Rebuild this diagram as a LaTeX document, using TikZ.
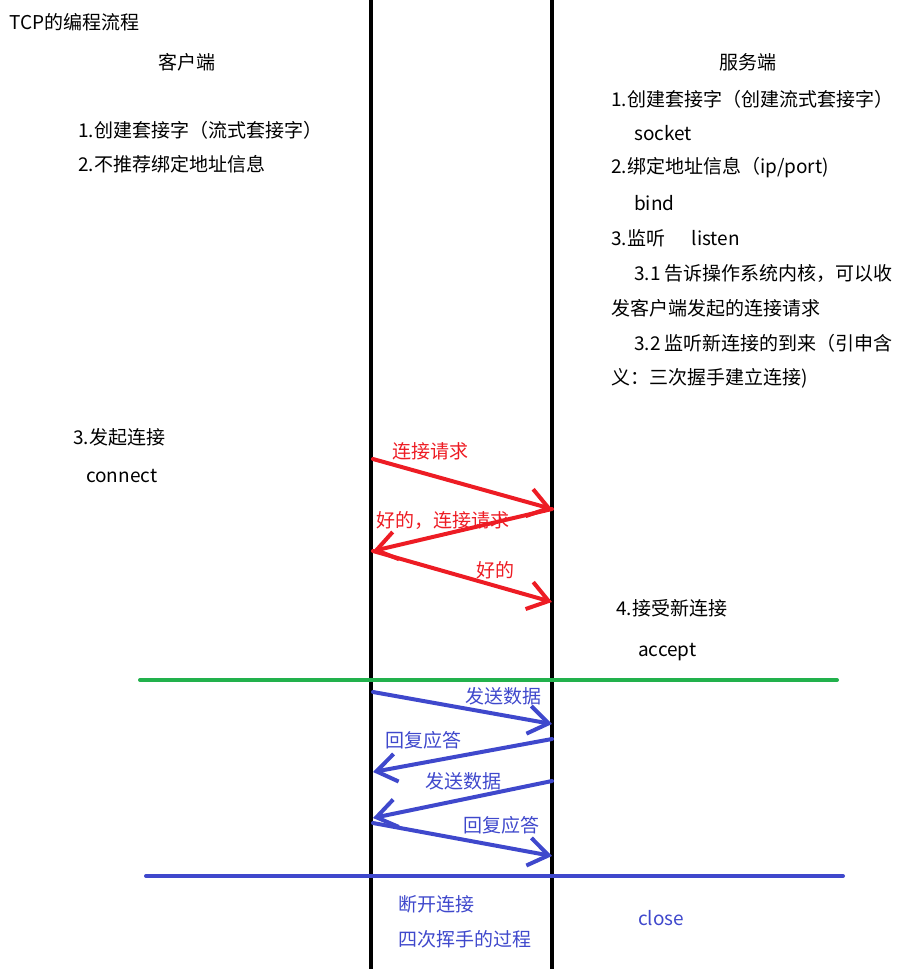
\documentclass[tikz,border=0pt]{standalone}
\usepackage{fontspec}
\setmainfont{Noto Sans CJK SC}
\usetikzlibrary{arrows.meta}

\definecolor{msred}{RGB}{237,28,36}
\definecolor{msgreen}{RGB}{34,177,76}
\definecolor{msblue}{RGB}{63,72,204}

\begin{document}
\begin{tikzpicture}[x=1pt,y=-1pt,
		txt/.style={anchor=west,inner sep=0pt,font=\fontsize{19}{23}\selectfont},
		head/.style={inner sep=0pt,font=\fontsize{19}{23}\selectfont},
		lifeline/.style={line width=4pt},
		msg/.style={line width=4pt,line cap=round,line join=round,
			-{Straight Barb[length=20pt,width=28pt,line width=4pt]}},
		sep/.style={line width=4pt,line cap=round}]
		\useasboundingbox (0,0) rectangle (915,969);

		%%% lifelines
		\coordinate (ctop) at (371,0);
		\coordinate (cbot) at (371,969);
		\coordinate (stop) at (552,0);
		\coordinate (sbot) at (552,969);
		\draw[lifeline] (ctop) -- (cbot);
		\draw[lifeline] (stop) -- (sbot);

		%%% titles
		\node[txt] (title) at (9,22) {TCP的编程流程};
		\node[head] (client) at (187,62) {客户端};
		\node[head] (server) at (748,62) {服务端};

		%%% client side
		\node[txt] (c1) at (78,130) {1.创建套接字（流式套接字）};
		\node[txt] (c2) at (78,164) {2.不推荐绑定地址信息};
		\node[txt] (c3) at (73,437) {3.发起连接};
		\node[txt] (c3b) at (86,476) {connect};

		%%% server side
		\node[txt] (s1) at (611,99) {1.创建套接字（创建流式套接字）};
		\node[txt] (s1b) at (634,133) {socket};
		\node[txt] (s2) at (611,168) {2.绑定地址信息（ip/port)};
		\node[txt] (s2b) at (634,203) {bind};
		\node[txt] (s3) at (611,238) {3.监听\hspace{1.4em}listen};
		\node[txt] (s31) at (634,273) {3.1 告诉操作系统内核，可以收};
		\node[txt] (s31b) at (611,308) {发客户端发起的连接请求};
		\node[txt] (s32) at (634,343) {3.2 监听新连接的到来（引申含};
		\node[txt] (s32b) at (611,378) {义：三次握手建立连接)};
		\node[txt] (s4) at (616,608) {4.接受新连接};
		\node[txt] (s4b) at (638,652) {accept};

		%%% handshake
		\coordinate (r1) at (373,459);
		\coordinate (r2) at (552,509);
		\coordinate (r3) at (373,551);
		\coordinate (r4) at (552,602);
		\draw[msg,msred] (r1) -- (r2);
		\draw[msg,msred] (r2) -- (r3);
		\draw[msg,msred] (r3) -- (r4);
		\node[txt,msred] (l1) at (392,451) {连接请求};
		\node[txt,msred] (l2) at (376,520) {好的，连接请求};
		\node[txt,msred] (l3) at (476,570) {好的};

		%%% data exchange
		\coordinate (g1) at (140,680);
		\coordinate (g2) at (837,680);
		\draw[sep,msgreen] (g1) -- (g2);
		\coordinate (b1) at (373,692);
		\coordinate (b2) at (552,724);
		\coordinate (b3) at (552,739);
		\coordinate (b4) at (373,772);
		\coordinate (b5) at (552,781);
		\coordinate (b6) at (373,818);
		\coordinate (b7) at (373,823);
		\coordinate (b8) at (552,856);
		\draw[msg,msblue] (b1) -- (b2);
		\draw[msg,msblue] (b3) -- (b4);
		\draw[msg,msblue] (b5) -- (b6);
		\draw[msg,msblue] (b7) -- (b8);
		\node[txt,msblue] (d1) at (465,696) {发送数据};
		\node[txt,msblue] (d2) at (385,740) {回复应答};
		\node[txt,msblue] (d3) at (425,781) {发送数据};
		\node[txt,msblue] (d4) at (463,825) {回复应答};

		%%% close
		\coordinate (e1) at (146,876);
		\coordinate (e2) at (843,876);
		\draw[sep,msblue] (e1) -- (e2);
		\node[txt,msblue] (k1) at (398,904) {断开连接};
		\node[txt,msblue] (k2) at (398,939) {四次挥手的过程};
		\node[txt,msblue] (k3) at (638,918) {close};
	\end{tikzpicture}
\end{document}
